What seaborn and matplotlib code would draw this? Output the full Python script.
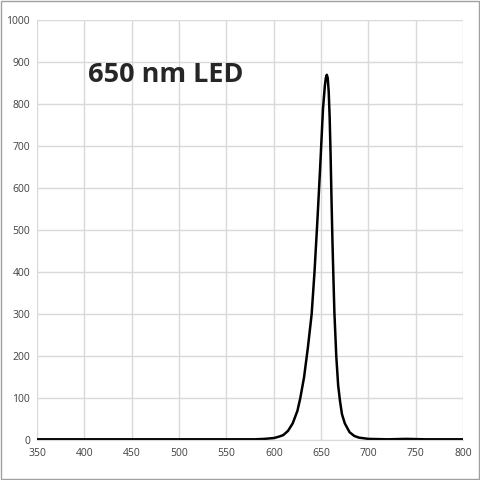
import numpy as np
import pandas as pd
import matplotlib
matplotlib.use("Agg")
import matplotlib.pyplot as plt
import seaborn as sns

wavelength = [350, 400, 450, 500, 550, 580, 590, 600, 605, 610, 615, 620, 625, 628, 632, 636, 640,
              643, 646, 649, 652, 654, 655, 656, 657, 658, 659, 660, 661, 662, 663, 664, 666,
              668, 670, 672, 675, 680, 685, 690, 700, 720, 740, 760, 800]
intensity = [2, 2, 2, 2, 2, 2, 3, 5, 8, 12, 22, 40, 70, 100, 150, 220, 300,
             400, 520, 650, 790, 845, 863, 870, 862, 830, 770, 680, 570, 470, 385, 305, 200,
             130, 92, 62, 40, 19, 10, 6, 3, 2, 3, 2, 2]

df = pd.DataFrame({"wl": wavelength, "I": intensity})

sns.set_style("white")
plt.rcParams['font.family'] = ['Open Sans', 'DejaVu Sans']
fig = plt.figure(figsize=(4.8, 4.8), dpi=100)
ax = fig.add_axes([0.077, 0.083, 0.888, 0.875])
sns.lineplot(data=df, x="wl", y="I", ax=ax, color="black", linewidth=1.8)
ax.set_xlim(350, 800)
ax.set_ylim(0, 1000)
ax.set_xticks(range(350, 801, 50))
ax.set_yticks(range(0, 1001, 100))
ax.grid(True, color="#d9d9d9", linewidth=1)
ax.tick_params(labelsize=7.5, colors="#404040", length=0)
ax.tick_params(axis="x", pad=6)
ax.tick_params(axis="y", pad=5)
ax.set_xlabel("")
ax.set_ylabel("")
for s in ["top", "right", "left"]:
    ax.spines[s].set_visible(False)
ax.spines["bottom"].set_color("#d9d9d9")
ax.text(404, 870, "650 nm LED", fontsize=19.5, fontweight="bold", va="center")
fig.patches.append(plt.Rectangle((0.002, 0.002), 0.996, 0.996, transform=fig.transFigure,
                                 fill=False, edgecolor="#a0a0a0", linewidth=1))
fig.savefig("out.png", dpi=100)
